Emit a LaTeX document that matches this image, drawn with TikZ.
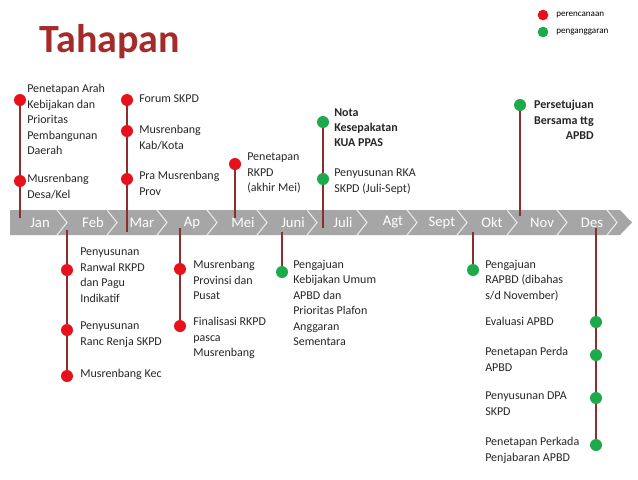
\documentclass[tikz,border=0pt]{standalone}
\usepackage{fontspec}
\setmainfont{Carlito}
\begin{document}
\begin{tikzpicture}[x=0.75pt,y=-0.75pt,
  vline/.style={draw=lineRed,line width=1.2pt},
  rdot/.style={circle,fill=dotRed,minimum size=9pt,inner sep=0pt},
  gdot/.style={circle,fill=dotGreen,minimum size=9pt,inner sep=0pt},
  lbl/.style={anchor=north west,align=left,font=\fontsize{9pt}{11.6pt}\selectfont,inner sep=0pt,text=black!85},
  mon/.style={text=white,font=\fontsize{11pt}{13pt}\selectfont}]
\definecolor{lineRed}{HTML}{8B2E2E}
\definecolor{dotRed}{HTML}{E8101A}
\definecolor{dotGreen}{HTML}{1DAA4A}
\definecolor{titleRed}{HTML}{A52A2A}
\definecolor{barGray}{HTML}{A6A6A6}
\useasboundingbox (0,0) rectangle (638,479);
% title and legend
\node[anchor=west,text=titleRed,font=\fontsize{30pt}{34pt}\bfseries\selectfont] (title) at (35,42) {Tahapan};
\node[rdot,minimum size=8pt] (lr) at (543,15) {};
\node[gdot,minimum size=8pt] (lg) at (543,32) {};
\node[anchor=west,font=\fontsize{6.8pt}{8pt}\selectfont,inner sep=0pt] (lrt) at (556,15) {perencanaan};
\node[anchor=west,font=\fontsize{6.8pt}{8pt}\selectfont,inner sep=0pt] (lgt) at (556,32) {penganggaran};
% bar
\fill[barGray] (10,210) -- (620,210) -- (632,222.5) -- (620,235) -- (10,235) -- cycle;
\foreach \b in {62,112,162,212,262,312,362,412,462,512,562,612}
  \draw[white!80!barGray,line width=0.8pt] (\b-5,210) -- (\b+5,222.5) -- (\b-5,235);
\foreach \m/\x in {Jan/40,Feb/93,Mar/142,Ap/192,Mei/243,Juni/293,Juli/343,Agt/393,Sept/442,Okt/492,Nov/542,Des/592}
  \node[mon] (m\m) at (\x,222.5) {\m};
% vertical lines
\coordinate (j1) at (20,96); \coordinate (j2) at (20,218);
\coordinate (f1) at (67,230); \coordinate (f2) at (67,377);
\coordinate (r1) at (127,96); \coordinate (r2) at (127,232);
\coordinate (a1) at (180,228); \coordinate (a2) at (180,327);
\coordinate (e1) at (235,164); \coordinate (e2) at (235,218);
\coordinate (u1) at (282,232); \coordinate (u2) at (282,272);
\coordinate (l1) at (323,122); \coordinate (l2) at (323,228);
\coordinate (o1) at (473,232); \coordinate (o2) at (473,270);
\coordinate (n1) at (520,105); \coordinate (n2) at (520,216);
\coordinate (d1) at (596,228); \coordinate (d2) at (596,445);
\foreach \p in {j,f,r,a,e,u,l,o,n,d} \draw[vline] (\p1) -- (\p2);
% dots
\node[rdot] (dj1) at (20,100) {}; \node[rdot] (dj2) at (20,181) {};
\node[rdot] (dr1) at (127,100) {}; \node[rdot] (dr2) at (127,131) {}; \node[rdot] (dr3) at (127,179) {};
\node[rdot] (de1) at (235,164) {};
\node[gdot] (dl1) at (323,122) {}; \node[gdot] (dl2) at (323,179) {};
\node[gdot] (dn1) at (520,105) {};
\node[rdot] (df1) at (67,270) {}; \node[rdot] (df2) at (67,330) {}; \node[rdot] (df3) at (67,376) {};
\node[rdot] (da1) at (180,269) {}; \node[rdot] (da2) at (180,326) {};
\node[gdot] (du1) at (282,272) {};
\node[gdot] (do1) at (473,270) {};
\node[gdot] (dd1) at (596,322) {}; \node[gdot] (dd2) at (596,355) {}; \node[gdot] (dd3) at (596,398) {}; \node[gdot] (dd4) at (596,445) {};
% labels
\node[lbl] (t1) at (27,84) {Penetapan Arah\\Kebijakan dan\\Prioritas\\Pembangunan\\Daerah};
\node[lbl] (t2) at (27,174) {Musrenbang\\Desa/Kel};
\node[lbl] (t3) at (139,94) {Forum SKPD};
\node[lbl] (t4) at (139,125) {Musrenbang\\Kab/Kota};
\node[lbl] (t5) at (139,171) {Pra Musrenbang\\Prov};
\node[lbl] (t6) at (247,153) {Penetapan\\RKPD\\(akhir Mei)};
\node[lbl,font=\fontsize{9pt}{11.6pt}\bfseries\selectfont] (t7) at (334,108) {Nota\\Kesepakatan\\KUA PPAS};
\node[lbl] (t8) at (334,169) {Penyusunan RKA\\SKPD (Juli-Sept)};
\node[lbl,align=right,anchor=north east,font=\fontsize{9pt}{11.6pt}\bfseries\selectfont] (t9) at (594,100) {Persetujuan\\Bersama ttg\\APBD};
\node[lbl] (t10) at (80,248) {Penyusunan\\Ranwal RKPD\\dan Pagu\\Indikatif};
\node[lbl] (t11) at (80,322) {Penyusunan\\Ranc Renja SKPD};
\node[lbl] (t12) at (80,369) {Musrenbang Kec};
\node[lbl] (t13) at (193,260) {Musrenbang\\Provinsi dan\\Pusat};
\node[lbl] (t14) at (193,317) {Finalisasi RKPD\\pasca\\Musrenbang};
\node[lbl] (t15) at (293,260) {Pengajuan\\Kebijakan Umum\\APBD dan\\Prioritas Plafon\\Anggaran\\Sementara};
\node[lbl] (t16) at (485,260) {Pengajuan\\RAPBD (dibahas\\s/d November)};
\node[lbl] (t17) at (485,317) {Evaluasi APBD};
\node[lbl] (t18) at (485,347) {Penetapan Perda\\APBD};
\node[lbl] (t19) at (485,392) {Penyusunan DPA\\SKPD};
\node[lbl] (t20) at (485,437) {Penetapan Perkada\\Penjabaran APBD};
\end{tikzpicture}
\end{document}
